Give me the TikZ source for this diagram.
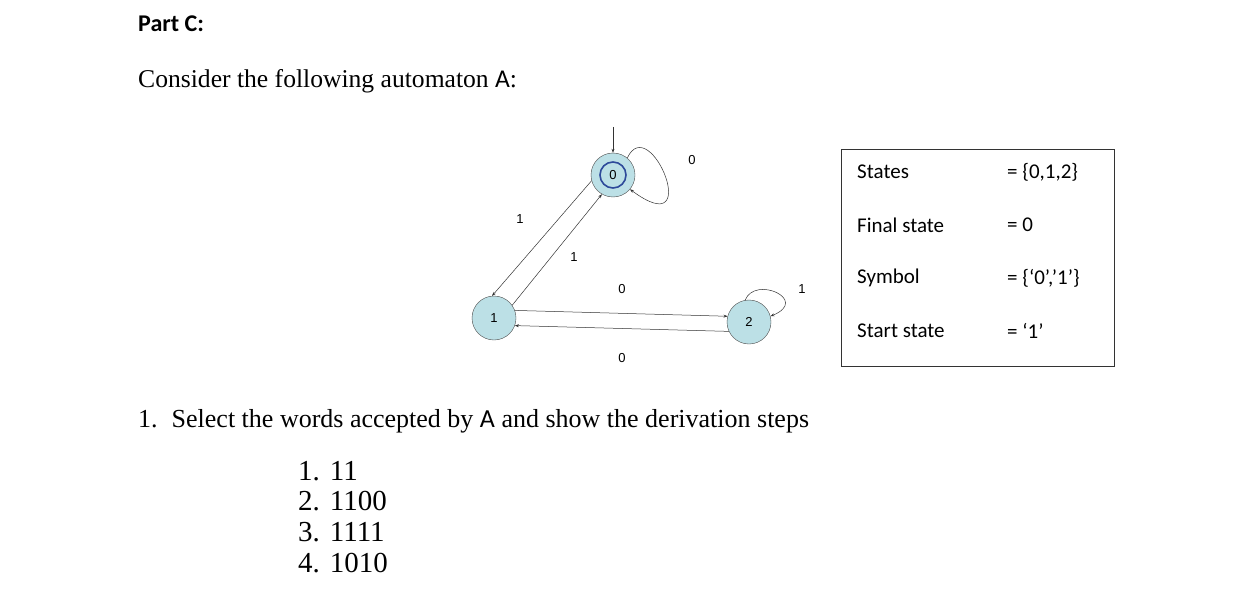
\documentclass[tikz,border=0pt]{standalone}
\usepackage{fontspec}
\setmainfont{Liberation Serif}
\newfontfamily\calfont{Carlito}
\newfontfamily\arl{Liberation Sans}
\usetikzlibrary{arrows.meta}
\definecolor{stfill}{HTML}{BCE0E6}
\definecolor{ringc}{HTML}{2E4A9A}
\begin{document}
\begin{tikzpicture}[x=1pt,y=-1pt,
  st/.style={circle,draw=black!70,fill=stfill,minimum size=44pt,inner sep=0pt,font=\arl\fontsize{13}{13}\selectfont},
  lab/.style={font=\arl\fontsize{13}{13}\selectfont},
  ed/.style={draw=black!80,line width=0.5pt,-{Stealth[length=4pt,width=3pt]}},
  tx/.style={anchor=base west,inner sep=0pt},
  tb/.style={anchor=west,inner sep=0pt,font=\calfont\fontsize{21}{21}\selectfont}]
\useasboundingbox (0,0) rectangle (1242,591);
\node[tx,font=\calfont\bfseries\fontsize{24}{24}\selectfont] (title) at (138,32) {Part C:};
\node[tx,font=\fontsize{25.6}{26}\selectfont] (cons) at (138,88) {Consider the following automaton {\calfont A}:};
% automaton
\node[st] (s0) at (613,175) {0};
\draw[ringc,line width=1.6pt] (s0) circle (13pt);
\node[st] (s1) at (494,318) {1};
\node[st] (s2) at (749,322) {2};
\coordinate (st0) at (613,127);
\draw[ed] (st0) -- (s0.north);
\draw[ed] (s0.195) -- (s1.95);
\draw[ed] (s1.35) -- (s0.240);
\draw[ed] (s1.20) -- (s2.165);
\draw[ed] (s2.205) -- (s1.340);
\draw[ed] (s0.50) .. controls (650,110) and (705,245) .. (s0.320);
\draw[ed] (s2.100) .. controls (755,275) and (810,300) .. (s2.15);
\node[lab] (l1) at (520,219) {1};
\node[lab] (l2) at (574,257) {1};
\node[lab] (l3) at (622,289) {0};
\node[lab] (l4) at (622,358) {0};
\node[lab] (l5) at (692,160) {0};
\node[lab] (l6) at (802,289) {1};
% table
\draw[black!80,line width=0.7pt] (841,149) rectangle (1114,366);
\foreach \y/\a/\b in {172/States/{= \{0,1,2\}},225/Final state/{= 0},278/Symbol/{= \{‘0’,’1’\}},331/Start state/{= ‘1’}}{
  \node[tb] at (857,\y) {\a};
  \node[tb] at (1007,\y) {\b};
}
\node[tx,font=\fontsize{26}{26}\selectfont] (q) at (138,427) {1.\hspace{14pt}Select the words accepted by {\calfont A} and show the derivation steps};
\foreach \y/\n/\t in {480/1/11,510/2/1100,541/3/1111,572/4/1010}
  \node[tx,font=\fontsize{29}{29}\selectfont] at (298,\y) {\n.\hspace{10pt}\t};
\end{tikzpicture}
\end{document}
